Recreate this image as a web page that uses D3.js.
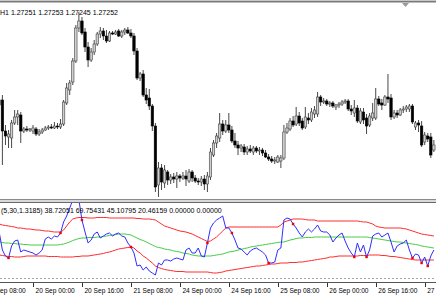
<!DOCTYPE html>
<html><head><meta charset="utf-8">
<script src="https://cdn.jsdelivr.net/npm/d3@7"></script>
<style>
html,body{margin:0;padding:0;background:#fff;overflow:hidden}
svg{display:block}
text{font-family:"Liberation Sans",Arial,sans-serif;fill:#000}
</style></head><body>
<svg id="c" width="436" height="300"></svg>
<script>
const symbolHeader = "H1  1.27251 1.27253 1.27245 1.27252";
const indicatorHeader = "(5,30,1.3185) 38.72051 69.75431 45.10795 20.46159 0.00000 0.00000";

const open = [1.2765,1.2770,1.2739,1.2733,1.2732,1.2747,1.2753,1.2755,1.2739,1.2741,
1.2740,1.2739,1.2741,1.2736,1.2738,1.2740,1.2742,1.2743,1.2742,1.2744,
1.2743,1.2746,1.2767,1.2780,1.2788,1.2809,1.2842,1.2849,1.2838,1.2823,
1.2810,1.2818,1.2826,1.2836,1.2839,1.2834,1.2829,1.2837,1.2836,1.2839,
1.2834,1.2838,1.2840,1.2837,1.2834,1.2819,1.2792,1.2796,1.2775,1.2772,
1.2764,1.2744,1.2685,1.2702,1.2687,1.2698,1.2690,1.2693,1.2691,1.2694,
1.2692,1.2694,1.2689,1.2698,1.2692,1.2689,1.2688,1.2691,1.2686,1.2693,
1.2715,1.2727,1.2732,1.2746,1.2739,1.2745,1.2740,1.2729,1.2725,1.2722,
1.2723,1.2718,1.2721,1.2718,1.2722,1.2719,1.2720,1.2717,1.2713,1.2711,
1.2709,1.2708,1.2709,1.2712,1.2738,1.2741,1.2749,1.2746,1.2754,1.2749,
1.2743,1.2752,1.2750,1.2756,1.2756,1.2773,1.2768,1.2769,1.2766,1.2767,
1.2763,1.2765,1.2766,1.2768,1.2769,1.2761,1.2757,1.2762,1.2748,1.2758,
1.2752,1.2745,1.2752,1.2752,1.2771,1.2767,1.2765,1.2773,1.2772,1.2753,
1.2757,1.2755,1.2760,1.2761,1.2761,1.2764,1.2743,1.2747,1.2744,1.2728,
1.2734,1.2733,1.2720];
const high = [1.2778,1.2775,1.2745,1.2740,1.2750,1.2760,1.2760,1.2758,1.2743,1.2744,
1.2742,1.2745,1.2743,1.2741,1.2742,1.2744,1.2745,1.2746,1.2748,1.2747,
1.2751,1.2770,1.2787,1.2790,1.2812,1.2845,1.2858,1.2853,1.2842,1.2828,
1.2822,1.2830,1.2838,1.2843,1.2842,1.2840,1.2839,1.2839,1.2840,1.2841,
1.2840,1.2842,1.2843,1.2841,1.2837,1.2822,1.2798,1.2800,1.2782,1.2781,
1.2766,1.2747,1.2708,1.2706,1.2705,1.2700,1.2696,1.2697,1.2698,1.2696,
1.2698,1.2700,1.2701,1.2700,1.2695,1.2692,1.2694,1.2695,1.2698,1.2722,
1.2730,1.2737,1.2757,1.2750,1.2750,1.2757,1.2744,1.2737,1.2729,1.2726,
1.2726,1.2724,1.2725,1.2724,1.2724,1.2723,1.2722,1.2720,1.2716,1.2714,
1.2713,1.2715,1.2715,1.2745,1.2747,1.2752,1.2754,1.2763,1.2758,1.2752,
1.2763,1.2757,1.2762,1.2764,1.2778,1.2775,1.2772,1.2771,1.2769,1.2769,
1.2766,1.2768,1.2770,1.2771,1.2771,1.2765,1.2770,1.2765,1.2762,1.2762,
1.2756,1.2757,1.2767,1.2782,1.2774,1.2771,1.2775,1.2796,1.2776,1.2760,
1.2760,1.2762,1.2764,1.2765,1.2766,1.2766,1.2749,1.2750,1.2749,1.2738,
1.2737,1.2737,1.2730];
const low = [1.2760,1.2705,1.2725,1.2722,1.2722,1.2745,1.2745,1.2727,1.2737,1.2738,
1.2738,1.2736,1.2734,1.2734,1.2736,1.2739,1.2740,1.2741,1.2741,1.2741,
1.2741,1.2744,1.2765,1.2775,1.2785,1.2807,1.2838,1.2835,1.2818,1.2803,
1.2808,1.2815,1.2824,1.2832,1.2830,1.2827,1.2828,1.2835,1.2835,1.2833,
1.2832,1.2835,1.2836,1.2832,1.2815,1.2790,1.2789,1.2773,1.2766,1.2760,
1.2739,1.2678,1.2673,1.2680,1.2682,1.2685,1.2686,1.2687,1.2682,1.2688,
1.2690,1.2684,1.2687,1.2688,1.2687,1.2685,1.2684,1.2680,1.2678,1.2690,
1.2713,1.2722,1.2728,1.2735,1.2737,1.2737,1.2727,1.2722,1.2715,1.2718,
1.2715,1.2715,1.2717,1.2715,1.2717,1.2715,1.2714,1.2712,1.2709,1.2707,
1.2706,1.2707,1.2702,1.2710,1.2736,1.2739,1.2743,1.2744,1.2744,1.2740,
1.2741,1.2746,1.2748,1.2752,1.2753,1.2764,1.2766,1.2764,1.2763,1.2762,
1.2760,1.2762,1.2764,1.2766,1.2759,1.2755,1.2753,1.2747,1.2746,1.2746,
1.2736,1.2743,1.2749,1.2750,1.2764,1.2760,1.2764,1.2767,1.2750,1.2751,
1.2752,1.2754,1.2757,1.2758,1.2758,1.2746,1.2740,1.2738,1.2723,1.2725,
1.2728,1.2712,1.2718];
const close = [1.2770,1.2739,1.2734,1.2736,1.2747,1.2753,1.2756,1.2739,1.2741,1.2740,
1.2741,1.2742,1.2736,1.2738,1.2740,1.2742,1.2743,1.2742,1.2744,1.2743,
1.2746,1.2768,1.2782,1.2787,1.2809,1.2842,1.2849,1.2837,1.2823,1.2810,
1.2818,1.2826,1.2836,1.2839,1.2834,1.2829,1.2837,1.2836,1.2838,1.2834,
1.2838,1.2840,1.2837,1.2834,1.2819,1.2792,1.2796,1.2775,1.2770,1.2764,
1.2744,1.2683,1.2702,1.2688,1.2700,1.2690,1.2693,1.2691,1.2694,1.2692,
1.2694,1.2691,1.2698,1.2692,1.2689,1.2688,1.2691,1.2686,1.2694,1.2718,
1.2727,1.2734,1.2746,1.2739,1.2745,1.2740,1.2729,1.2725,1.2722,1.2724,
1.2718,1.2721,1.2719,1.2722,1.2719,1.2720,1.2717,1.2713,1.2711,1.2709,
1.2710,1.2713,1.2712,1.2738,1.2742,1.2749,1.2745,1.2754,1.2747,1.2742,
1.2753,1.2750,1.2758,1.2760,1.2773,1.2768,1.2769,1.2766,1.2767,1.2764,
1.2765,1.2766,1.2768,1.2769,1.2761,1.2759,1.2762,1.2749,1.2759,1.2750,
1.2744,1.2754,1.2757,1.2771,1.2766,1.2765,1.2773,1.2771,1.2753,1.2757,
1.2755,1.2760,1.2761,1.2763,1.2764,1.2748,1.2747,1.2745,1.2725,1.2735,
1.2731,1.2715,1.2725];

const mainLine = [45,28,22,20,32,37,38,26,28,27,
26,25,23,25,28,39,41,39,42,41,
45,56,62,70,78,82,78,58,46,35,
38,44,46,40,42,44,45,42,44,45,
42,41,35,31,25,12,13,8,11,7,
5,3,15,13,18,18,17,19,20,19,
18,28,30,25,25,30,22,21,35,50,
55,58,60,62,50,50,45,38,30,29,
26,23,27,29,30,28,26,23,15,15,
16,28,30,58,60,59,54,50,45,41,
46,49,46,49,53,47,46,46,43,36,
40,43,45,37,30,25,21,35,26,33,
21,28,42,44,45,41,43,45,36,26,
32,34,35,38,28,20,24,23,15,21,
12,22,28];
const upperBand = [54,53,52.5,52,51.5,51,50,50,49.5,49,
49,48.5,48,48,47.5,47,47,46.5,46,46,
46,48,52,56,59,60,60.5,60.5,60.5,60,
60,60,60.5,60.5,60.5,60.5,60,60,60,60,
60,60,60,60,60,59.5,59.5,59,59,59,
58.5,58,56,54,52,51,50,49,48,47,
46.5,46,45,44,42.5,41,39.5,38,36.5,37,
39,41,44,47,50,51,51,51,51,51,
51,51,51,51,51,51,51,51,51,51,
51,51,53,56,57,58,59,59,59,59,
58.5,58,58,58,57,57,57,57,57,57,
57,57,57,57,57,57,57,57,56.5,56,
56,55,54,52,51,50.5,50,50,50,50,
50,50,49.5,49,48,47,46,45,44,43.5,
43,42.5,42];
const midLine = [36,35.5,35,35,34.5,34.5,34,34,33.5,33.5,
33,33,33,33,33,33,33,33,33,33,
33.5,34,35,36,37.5,38.5,39.5,40,40,40.5,
40.5,40.5,41,41,41.5,42,42.5,43,43.5,44,
44,44,43.5,43,41.5,40,38.5,37.5,36,34.5,
33,31.5,30.5,30,29,28.5,28,27,26.5,26,
25,24.5,24,23,22.5,22,22,22,22,22,
22.5,23,23.5,24,25,26,26.5,27,28,28.5,
29.5,30,31,31.5,32,32.5,33,33.5,34,34.5,
35,35.5,36,36,37,38,38.5,39.5,40,40,
40.5,40.5,40.5,41,41,41,41,41,41,41,
41,41,41,41,41,41,41,41,41,41,
41,40.5,40,39.5,39,38.5,38,37.5,37,36.5,
36,36,35.5,35,34.5,34,33.5,33,32,31.5,
31,30.5,30];
const lowerBand = [23,22.5,22,21.5,21.5,21,21,21,21.5,22,
22,22,22,22,22,22,21.5,21.5,21.5,21.5,
21,21,21,21,21,21.5,21.5,22,22,22,
22.5,23,23.5,24,24.5,25.5,26,27,28,29,
29.5,30,30.5,31,30,27,25,22,20,17.5,
15,12,10.5,9.5,8.5,8,7.5,7,6.5,6.5,
6.5,6,6,6,6,6,6,6,6,5.5,
5,5,5.5,6,7,7.5,8,8.5,9,9.5,
10,10.5,11,11.5,12,12,12.5,13,13.5,14,
14,14.5,15,15,15,15.5,15.5,15.5,16,16,
16.5,17,17.5,18,18.5,19,19.5,20,21,21,
21.5,22,22,22,22,22,22,22,22.5,22.5,
22.5,23,23,23,23,22.5,22.5,22,21.5,21.5,
21,20.5,20,19.5,19,18.5,18,18,18,18,
18,18,18];
const arrowBars = [3,20,27,43,68,76,88,96,116,120,135,138,140];
const arrowValues = [20,45,58,31,35,45,15,54,21,21,20,15,12];
const levelValues = [0];

const tickLabels = ["19 Sep 08:00","20 Sep 00:00","20 Sep 16:00","21 Sep 08:00","24 Sep 00:00","24 Sep 16:00","25 Sep 08:00","26 Sep 00:00","26 Sep 16:00","27 Sep 08:00"];
const tickBars = [-5,11,27,43,59,75,91,107,123,139];

const W = 436, H = 300;
const svg = d3.select("#c");
const bars = d3.range(open.length);

const x = d3.scaleLinear().domain([0, 142]).range([-0.66, 433.86]);
const yP = d3.scaleLinear().domain([1.2870, 1.2670]).range([0, 200]);
const yI = d3.scaleLinear().domain([0, 75]).range([278, 203]);

// frame
svg.append("rect").attr("x",0).attr("y",0).attr("width",W).attr("height",H).attr("fill","#fff");
svg.append("rect").attr("x",0).attr("y",0).attr("width",W).attr("height",1).attr("fill","#c8c8c8");
svg.append("rect").attr("x",0).attr("y",1).attr("width",W).attr("height",1.5).attr("fill","#7a7a7a");
// shift marker
svg.append("path").attr("d","M402,3 L409,3 L405.5,7 Z").attr("fill","#9a9a9a");

const defs = svg.append("defs");
defs.append("clipPath").attr("id","cm").append("rect").attr("x",0).attr("y",3).attr("width",W).attr("height",196);
defs.append("clipPath").attr("id","ci").append("rect").attr("x",0).attr("y",203).attr("width",W).attr("height",79);

const gM = svg.append("g").attr("clip-path","url(#cm)");
gM.selectAll("line.w").data(bars).join("line")
  .attr("x1", i => x(i)).attr("x2", i => x(i))
  .attr("y1", i => yP(high[i])).attr("y2", i => yP(low[i]))
  .attr("stroke","#333").attr("stroke-width",0.9);
gM.selectAll("rect.b").data(bars).join("rect")
  .attr("x", i => x(i) - 1.2).attr("width", 2.4)
  .attr("y", i => yP(Math.max(open[i], close[i])))
  .attr("height", i => Math.max(0.8, Math.abs(yP(open[i]) - yP(close[i]))))
  .attr("fill", i => close[i] >= open[i] ? "#cfcfcf" : "#000")
  .attr("stroke", i => close[i] >= open[i] ? "#404040" : "#000")
  .attr("stroke-width", 0.6);

svg.append("text").attr("x",0).attr("y",15).attr("font-size",7).text(symbolHeader);

// separators
svg.append("rect").attr("x",0).attr("y",199).attr("width",W).attr("height",4).attr("fill","#d9d9d9");
svg.append("line").attr("x1",0).attr("x2",W).attr("y1",199.5).attr("y2",199.5).attr("stroke","#8a8a8a");
svg.append("line").attr("x1",0).attr("x2",W).attr("y1",202.5).attr("y2",202.5).attr("stroke","#6a6a6a");

// indicator
const gI = svg.append("g").attr("clip-path","url(#ci)");
gI.selectAll("line.lv").data(levelValues).join("line")
  .attr("x1",0).attr("x2",W).attr("y1", v => Math.round(yI(v))+0.5).attr("y2", v => Math.round(yI(v))+0.5)
  .attr("stroke","#a8a8a8").attr("stroke-dasharray","2,2");
const line = arr => d3.line().x((d,i) => x(i)).y(d => yI(d))(arr);
gI.append("path").attr("d", line(upperBand)).attr("fill","none").attr("stroke","#ff2a2a").attr("stroke-width",1);
gI.append("path").attr("d", line(lowerBand)).attr("fill","none").attr("stroke","#ff2a2a").attr("stroke-width",1);
gI.append("path").attr("d", line(midLine)).attr("fill","none").attr("stroke","#45cc45").attr("stroke-width",1);
gI.append("path").attr("d", line(mainLine)).attr("fill","none").attr("stroke","#2e2eff").attr("stroke-width",1);
gI.selectAll("rect.ar").data(arrowBars).join("rect")
  .attr("x", (b) => x(b) - 1.2).attr("y", (b,k) => yI(arrowValues[k]) - 1.2)
  .attr("width",2.4).attr("height",2.4).attr("fill","#ee0000");

svg.append("text").attr("x",1).attr("y",213).attr("font-size",7).text(indicatorHeader);

// time axis
svg.append("line").attr("x1",0).attr("x2",W).attr("y1",282.5).attr("y2",282.5).attr("stroke","#555");
const gA = svg.append("g");
gA.selectAll("line.t").data(tickBars).join("line")
  .attr("x1", b => Math.round(x(b))+0.5).attr("x2", b => Math.round(x(b))+0.5)
  .attr("y1",283).attr("y2",287).attr("stroke","#333");
gA.selectAll("text.t").data(tickLabels).join("text")
  .attr("x", (t,k) => x(tickBars[k]) + 2.5).attr("y",293).attr("font-size",6.6).text(t => t);
</script></body></html>
